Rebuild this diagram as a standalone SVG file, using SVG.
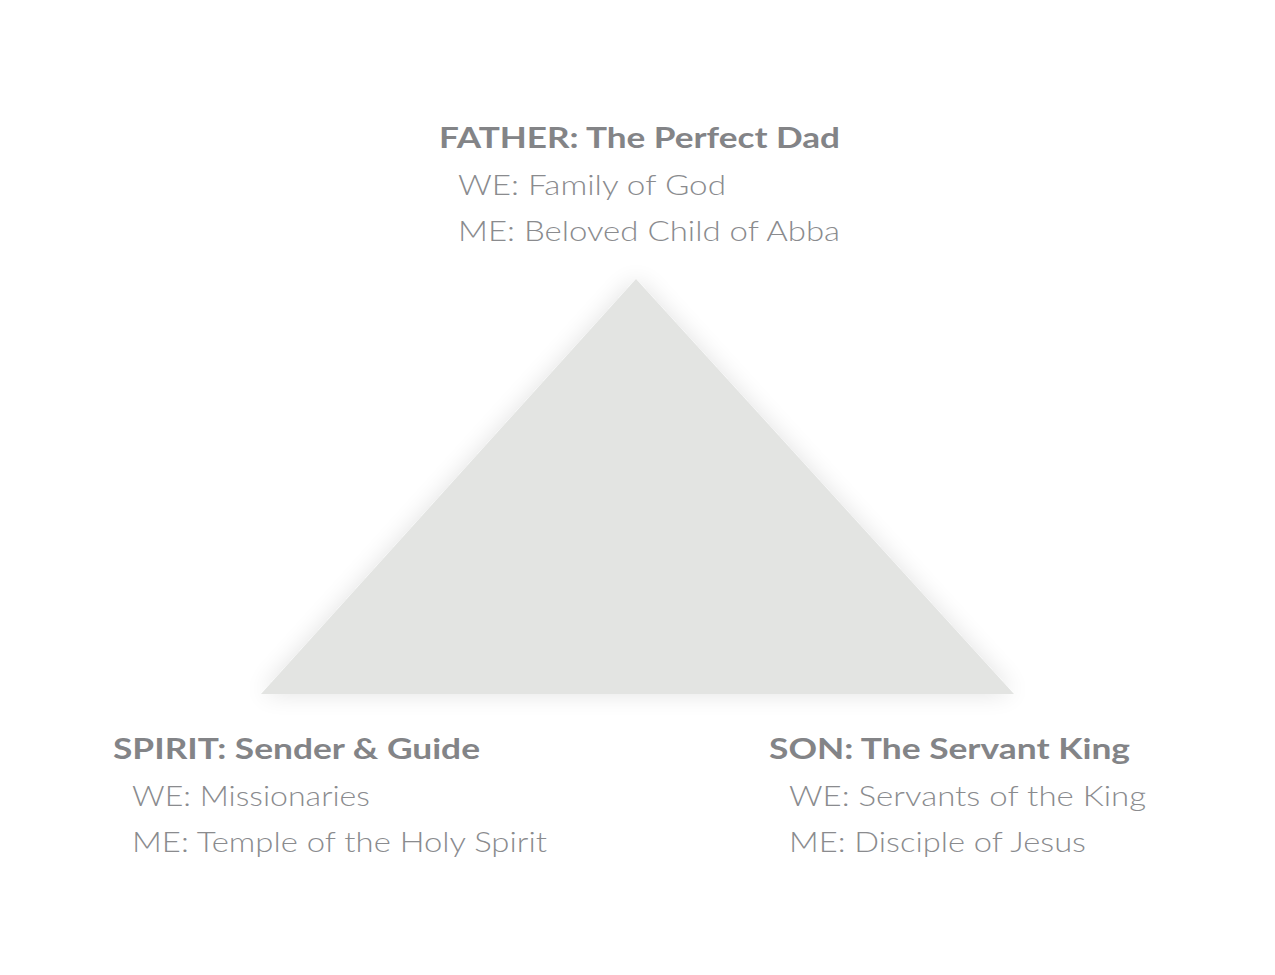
<svg xmlns="http://www.w3.org/2000/svg" width="1275" height="975" viewBox="0 0 1275 975">
<style>
.h{font-family:Lato,"Liberation Sans",sans-serif;font-weight:700;font-size:29px;fill:#838487}
.t{font-family:Lato,"Liberation Sans",sans-serif;font-weight:300;font-size:28px;fill:#8a8b8e}
</style>
<defs><filter id="sh" x="-20%" y="-20%" width="140%" height="140%"><feGaussianBlur in="SourceAlpha" stdDeviation="12"/><feComponentTransfer><feFuncA type="linear" slope="0.12"/></feComponentTransfer><feMerge><feMergeNode/><feMergeNode in="SourceGraphic"/></feMerge></filter></defs>
<rect width="1275" height="975" fill="#fff"/>
<g id="triangle"><polygon points="636,279 1014,694 261,694" fill="#e3e4e2" filter="url(#sh)"/></g>
<g id="father">
<text class="h" x="439" y="148" textLength="401" lengthAdjust="spacingAndGlyphs">FATHER: The Perfect Dad</text>
<text class="t" x="458" y="195" textLength="268" lengthAdjust="spacingAndGlyphs">WE: Family of God</text>
<text class="t" x="458" y="241" textLength="382" lengthAdjust="spacingAndGlyphs">ME: Beloved Child of Abba</text>
</g>
<g id="spirit">
<text class="h" x="113" y="759" textLength="367" lengthAdjust="spacingAndGlyphs">SPIRIT: Sender &amp; Guide</text>
<text class="t" x="132" y="806" textLength="238" lengthAdjust="spacingAndGlyphs">WE: Missionaries</text>
<text class="t" x="132" y="852" textLength="415" lengthAdjust="spacingAndGlyphs">ME: Temple of the Holy Spirit</text>
</g>
<g id="son">
<text class="h" x="769" y="759" textLength="361" lengthAdjust="spacingAndGlyphs">SON: The Servant King</text>
<text class="t" x="789" y="806" textLength="357" lengthAdjust="spacingAndGlyphs">WE: Servants of the King</text>
<text class="t" x="789" y="852" textLength="297" lengthAdjust="spacingAndGlyphs">ME: Disciple of Jesus</text>
</g>
<g id="connectors"/>
</svg>
